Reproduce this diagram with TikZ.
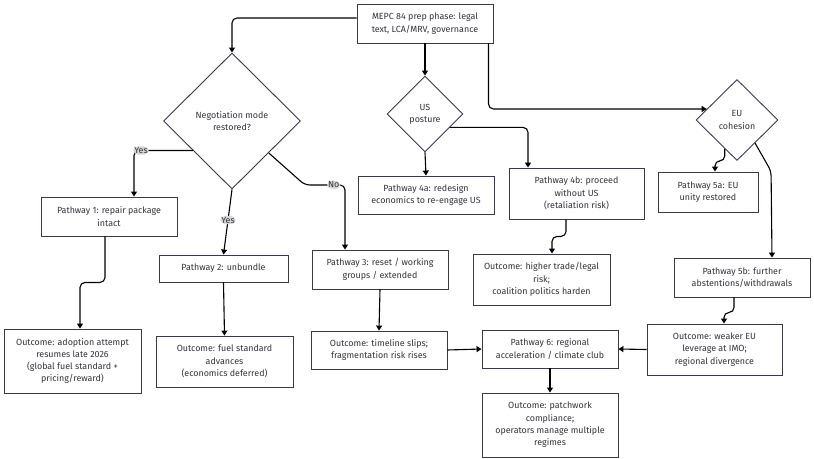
\documentclass[tikz,border=0pt]{standalone}
\usepackage{fontspec}
\setmainfont{Fira Sans}
\usetikzlibrary{shapes.geometric,arrows.meta}

\definecolor{boxline}{HTML}{3B3751}
\definecolor{txtcol}{HTML}{33333F}
\colorlet{lblbg}{black!16}

\begin{document}
\begin{tikzpicture}[x=1pt, y=-1pt,
          box/.style={draw=boxline, fill=white, line width=0.9pt, align=center,
                      font=\fontsize{8.9}{12.3}\selectfont, text=txtcol, inner sep=2pt},
          dec/.style={diamond, draw=boxline, fill=white, line width=0.9pt, align=center,
                      font=\fontsize{8.9}{12.3}\selectfont, text=txtcol, inner sep=0pt},
          lbl/.style={fill=lblbg, font=\fontsize{8.9}{10}\selectfont, text=txtcol, inner sep=1pt},
          arr/.style={-{Triangle[length=5pt,width=6pt]}, line width=1.1pt, rounded corners=5pt}
        ]
        \useasboundingbox (0,0) rectangle (814,458);

        % ---- start ----
        \node[box, minimum width=136pt, minimum height=39pt] (mepc) at (425,23.5)
          {MEPC 84 prep phase: legal\\text, LCA/MRV, governance};

        % ---- decisions ----
        \node[dec, minimum width=137pt, minimum height=136pt] (neg) at (232,121)
          {Negotiation mode\\restored?};
        \node[dec, minimum width=76pt, minimum height=76pt] (us) at (425,114) {US\\posture};
        \node[dec, minimum width=82pt, minimum height=81pt] (eu) at (737,120) {EU\\cohesion};

        % ---- pathways ----
        \node[box, minimum width=136pt, minimum height=39pt] (p1) at (109,216.5)
          {Pathway 1: repair package\\intact};
        \node[box, minimum width=129pt, minimum height=27pt] (p2) at (223.5,268.5)
          {Pathway 2: unbundle};
        \node[box, minimum width=136pt, minimum height=39pt] (p3) at (380,269.5)
          {Pathway 3: reset / working\\groups / extended};
        \node[box, minimum width=136pt, minimum height=38pt] (p4a) at (426,195)
          {Pathway 4a: redesign\\economics to re-engage US};
        \node[box, minimum width=135pt, minimum height=51pt] (p4b) at (576.5,193.5)
          {Pathway 4b: proceed\\without US\\(retaliation risk)};
        \node[box, minimum width=100pt, minimum height=40pt] (p5a) at (708,192)
          {Pathway 5a: EU\\unity restored};
        \node[box, minimum width=136pt, minimum height=39pt] (p5b) at (742,277.5)
          {Pathway 5b: further\\abstentions/withdrawals};
        \node[box, minimum width=136pt, minimum height=38pt] (p6) at (550,349)
          {Pathway 6: regional\\acceleration / climate club};

        % ---- outcomes ----
        \node[box, minimum width=137pt, minimum height=64pt] (o1) at (72.5,361)
          {Outcome: adoption attempt\\resumes late 2026\\(global fuel standard +\\pricing/reward)};
        \node[box, minimum width=137pt, minimum height=51pt] (o2) at (224.5,361.5)
          {Outcome: fuel standard\\advances\\(economics deferred)};
        \node[box, minimum width=136pt, minimum height=38pt] (o3) at (379,350)
          {Outcome: timeline slips;\\fragmentation risk rises};
        \node[box, minimum width=137pt, minimum height=51pt] (o4b) at (541.5,279.5)
          {Outcome: higher trade/legal\\risk;\\coalition politics harden};
        \node[box, minimum width=135pt, minimum height=51pt] (o5b) at (714.5,349.5)
          {Outcome: weaker EU\\leverage at IMO;\\regional divergence};
        \node[box, minimum width=136pt, minimum height=64pt] (o6) at (550,425)
          {Outcome: patchwork\\compliance;\\operators manage multiple\\regimes};

        % ---- from the prep phase ----
        \draw[arr] ([yshift=5.5pt]mepc.west) -| (neg.north);
        \draw[arr] (mepc.south) -- (us.north);
        \draw[arr] ([xshift=-5pt]mepc.south east) |- (eu.160);

        % ---- negotiation branches ----
        \draw[arr] (neg.217) -| node[lbl, pos=0.44] {Yes} ([xshift=25pt]p1.north);
        \draw[arr] (neg.south) -- node[lbl, pos=0.47] {Yes} (p2.north);
        \draw[arr] (neg.319) -- ++(36,32) -| node[lbl, pos=0.36] {No} ([xshift=-35pt]p3.north);

        % ---- US branches ----
        \draw[arr] (us.south) -- (p4a.north);
        \draw[arr] (us.332) -| ([xshift=-48.5pt]p4b.north);

        % ---- EU branches ----
        \draw[arr] (eu.247) -- ++(0,12) -| ([xshift=7pt]p5a.north);
        \draw[arr] (eu.308) -- ++(16,28) -- ([xshift=30pt]p5b.north);

        % ---- pathways to outcomes ----
        \draw[arr] ([xshift=-4pt]p1.south) -- ++(0,46) -| ([xshift=7.5pt]o1.north);
        \draw[arr] (p2.south) -- (o2.north);
        \draw[arr] (p3.south) -- (o3.north);
        \draw[arr] ([xshift=-10.5pt]p4b.south) -- ++(0,17) -| ([xshift=10.5pt]o4b.north);
        \draw[arr] ([xshift=-8pt]p5b.south) -- ++(0,15) -| ([xshift=9.5pt]o5b.north);

        % ---- into pathway 6 ----
        \draw[arr] (o3.east) -- (p6.west);
        \draw[arr] (o5b.west) -- (p6.east);
        \draw[arr] (p6.south) -- (o6.north);

      \end{tikzpicture}
\end{document}
